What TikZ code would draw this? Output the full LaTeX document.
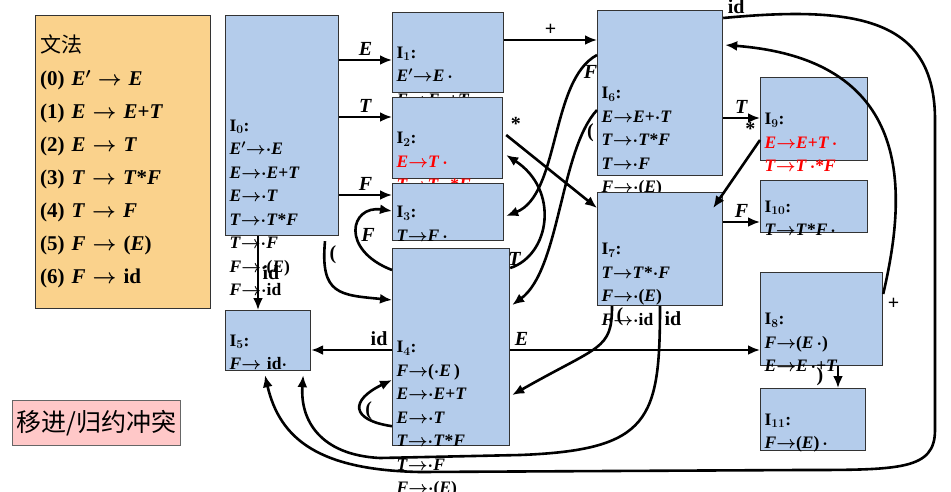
\documentclass[tikz,border=0pt]{standalone}
\usepackage{fontspec}
\setmainfont{Liberation Serif}
\newfontfamily\cjk{Noto Sans CJK SC}
\usetikzlibrary{calc,arrows.meta}
\newcommand\V[1]{\textit{#1}}
\newcommand\A{$\rightarrow$}
\newcommand\D{$\cdot$}
\begin{document}
\begin{tikzpicture}[x=1pt,y=-1pt,
  box/.style={draw=black!80,line width=1.2pt,fill=myblue,anchor=north west,align=left,inner sep=0pt,font=\fontsize{17.5}{23.5}\selectfont\bfseries\boldmath,text depth=0pt},
  ed/.style={line width=2.6pt,-{Latex[length=12pt,width=10pt]}},
  lb/.style={font=\fontsize{20}{22}\selectfont\bfseries\boldmath}]
\definecolor{myblue}{RGB}{180,204,235}
\definecolor{myorange}{RGB}{250,210,140}
\definecolor{mypink}{RGB}{255,200,200}
\useasboundingbox (0,0) rectangle (951,491);
\node[draw=black!80,fill=myorange,anchor=north west,minimum width=175pt,minimum height=293pt,text width=165pt,align=left,font=\fontsize{21}{33}\selectfont\bfseries\boldmath,inner sep=5pt] (G) at (35,15)
 {{\cjk\mdseries 文法}\\(0) \V{E}$'\rightarrow$ \V{E}\\(1) \V{E} $\rightarrow$ \V{E}+\V{T}\\(2) \V{E} $\rightarrow$ \V{T}\\(3) \V{T} $\rightarrow$ \V{T}*\V{F}\\(4) \V{T} $\rightarrow$ \V{F}\\(5) \V{F} $\rightarrow$ (\V{E})\\(6) \V{F} $\rightarrow$ id};
\node[draw=black!60,fill=mypink,anchor=north west,minimum width=168pt,minimum height=45pt,font=\fontsize{25}{28}\selectfont\cjk] (C) at (12,400) {移进/归约冲突};
\node[box,minimum width=113pt,minimum height=220pt,text width=105pt] (I0) at (225,15) {I$_0$:\\\V{E}$'$\A\D\V{E}\\\V{E}\A\D\V{E}+\V{T}\\\V{E}\A\D\V{T}\\\V{T}\A\D\V{T}*\V{F}\\\V{T}\A\D\V{F}\\\V{F}\A\D(\V{E})\\\V{F}\A\D id};
\node[box,minimum width=111pt,minimum height=80pt,text width=103pt] (I1) at (392,12) {I$_1$:\\\V{E}$'$\A\V{E}\,\D\\\V{E}\A\V{E}\D\,+\V{T}};
\node[box,minimum width=110pt,minimum height=81pt,text width=102pt] (I2) at (392,97) {I$_2$:\\\color{red}\V{E}\A\V{T}\,\D\\\color{red}\V{T}\A\V{T}\,\D\,*\V{F}};
\node[box,minimum width=111pt,minimum height=57pt,text width=103pt] (I3) at (392,183) {I$_3$:\\\V{T}\A\V{F}\,\D};
\node[box,minimum width=117pt,minimum height=197pt,text width=109pt] (I4) at (392,248) {I$_4$:\\\V{F}\A(\D\V{E}\,)\\\V{E}\A\D\V{E}+\V{T}\\\V{E}\A\D\V{T}\\\V{T}\A\D\V{T}*\V{F}\\\V{T}\A\D\V{F}\\\V{F}\A\D(\V{E})\\\V{F}\A\D id};
\node[box,minimum width=85pt,minimum height=60pt,text width=77pt] (I5) at (225,310) {I$_5$:\\\V{F}\A\ id\D};
\node[box,minimum width=125pt,minimum height=165pt,text width=117pt] (I6) at (597,10) {I$_6$:\\\V{E}\A\V{E}+\D\V{T}\\\V{T}\A\D\V{T}*\V{F}\\\V{T}\A\D\V{F}\\\V{F}\A\D(\V{E})\\\V{F}\A\D id};
\node[box,minimum width=125pt,minimum height=113pt,text width=117pt] (I7) at (597,192) {I$_7$:\\\V{T}\A\V{T}*\D\V{F}\\\V{F}\A\D(\V{E})\\\V{F}\A\D id};
\node[box,minimum width=122pt,minimum height=93pt,text width=114pt] (I8) at (760,272) {I$_8$:\\\V{F}\A(\V{E}\,\D)\\\V{E}\A\V{E}\,\D+\V{T}};
\node[box,minimum width=107pt,minimum height=83pt,text width=99pt] (I9) at (760,77) {I$_9$:\\\color{red}\V{E}\A\V{E}+\V{T}\,\D\\\color{red}\V{T}\A\V{T}\,\D*\V{F}};
\node[box,minimum width=107pt,minimum height=52pt,text width=99pt] (I10) at (760,180) {I$_{10}$:\\\V{T}\A\V{T}*\V{F}\,\D};
\node[box,minimum width=105pt,minimum height=62pt,text width=97pt] (I11) at (760,388) {I$_{11}$:\\\V{F}\A(\V{E})\,\D};
% edges
\draw[ed] ($(I0.north east)+(0,45)$) -- node[lb,above]{\V{E}} ($(I1.north west)+(0,48)$);
\draw[ed] ($(I0.north east)+(0,102)$) -- node[lb,above]{\V{T}} ($(I2.north west)+(0,20)$);
\draw[ed] ($(I0.north east)+(0,180)$) -- node[lb,above]{\V{F}} ($(I3.north west)+(0,12)$);
\draw[ed] ($(I1.north east)+(0,28)$) -- node[lb,above]{+} ($(I6.north west)+(0,30)$);
\draw[ed] ($(I0.south west)+(33,0)$) -- node[lb,right]{id} ($(I5.north west)+(33,0)$);
\draw[ed] ($(I0.south west)+(100,5)$) node[lb,right,yshift=-13pt]{(} .. controls (320,295) and (340,295) .. ($(I4.north west)+(0,52)$);
\draw[ed] ($(I4.north west)+(0,22)$) .. controls (340,250) and (350,205) .. node[lb,right,pos=0.45]{\V{F}} ($(I3.north west)+(0,28)$);
\draw[ed] ($(I4.north east)+(0,20)$) .. controls (550,255) and (560,190) .. node[lb,left,pos=0.15]{\V{T}} ($(I2.north east)+(3,58)$);
\draw[ed] ($(I2.north east)+(3,38)$) node[lb,above right]{*} -- ($(I7.north west)+(0,16)$);
\draw[ed] ($(I6.north west)+(0,45)$) .. controls (550,80) and (560,195) .. node[lb,right,pos=0.15]{\V{F}} ($(I3.north east)+(2,33)$);
\draw[ed] ($(I6.north west)+(0,100)$) .. controls (560,150) and (560,270) .. node[lb,right,pos=0.15]{(} ($(I4.north east)+(2,57)$);
\draw[ed] ($(I6.north east)+(0,108)$) -- node[lb,above]{\V{T}} ($(I9.north west)+(0,41)$);
\draw[ed] ($(I9.north west)+(0,63)$) node[lb,above left]{*} -- ($(I7.north east)+(-10,16)$);
\draw[ed] ($(I7.north east)+(0,30)$) -- node[lb,above]{\V{F}} ($(I10.north west)+(0,42)$);
\draw[ed] ($(I4.north west)+(0,102)$) node[lb,above left]{id} -- ($(I5.north east)+(0,40)$);
\draw[ed] ($(I4.north east)+(0,102)$) node[lb,above right]{\V{E}} -- ($(I8.north west)+(0,78)$);
\draw[ed] ($(I7.south west)+(15,0)$) node[lb,right,yshift=-10pt]{(} .. controls (612,350) and (600,345) .. ($(I4.north east)+(2,147)$);
\draw[ed] ($(I7.south west)+(63,0)$) node[lb,right,yshift=-12pt]{id} .. controls (660,420) and (650,450) .. (520,455) -- (380,458) .. controls (320,455) and (300,420) .. ($(I5.south east)+(-8,4)$);
\draw[ed] ($(I4.south west)+(0,-20)$) .. controls (350,420) and (350,400) .. node[lb,right,pos=0.45]{(} ($(I4.north west)+(0,132)$);
\draw[ed] ($(I8.south west)+(78,0)$) -- node[lb,left,xshift=-10pt]{)} ($(I11.north west)+(78,0)$);
\draw[ed] ($(I8.north east)+(0,22)$) node[lb,below right]{+} .. controls (905,200) and (920,60) .. ($(I6.north east)+(2,35)$);
\draw[ed] ($(I6.north east)+(0,8)$) node[lb,above right]{id} .. controls (860,5) and (935,20) .. (935,120) -- (935,430) .. controls (935,470) and (900,470) .. (800,470) -- (420,472) .. controls (320,470) and (280,440) .. ($(I5.south west)+(40,4)$);
\end{tikzpicture}
\end{document}
